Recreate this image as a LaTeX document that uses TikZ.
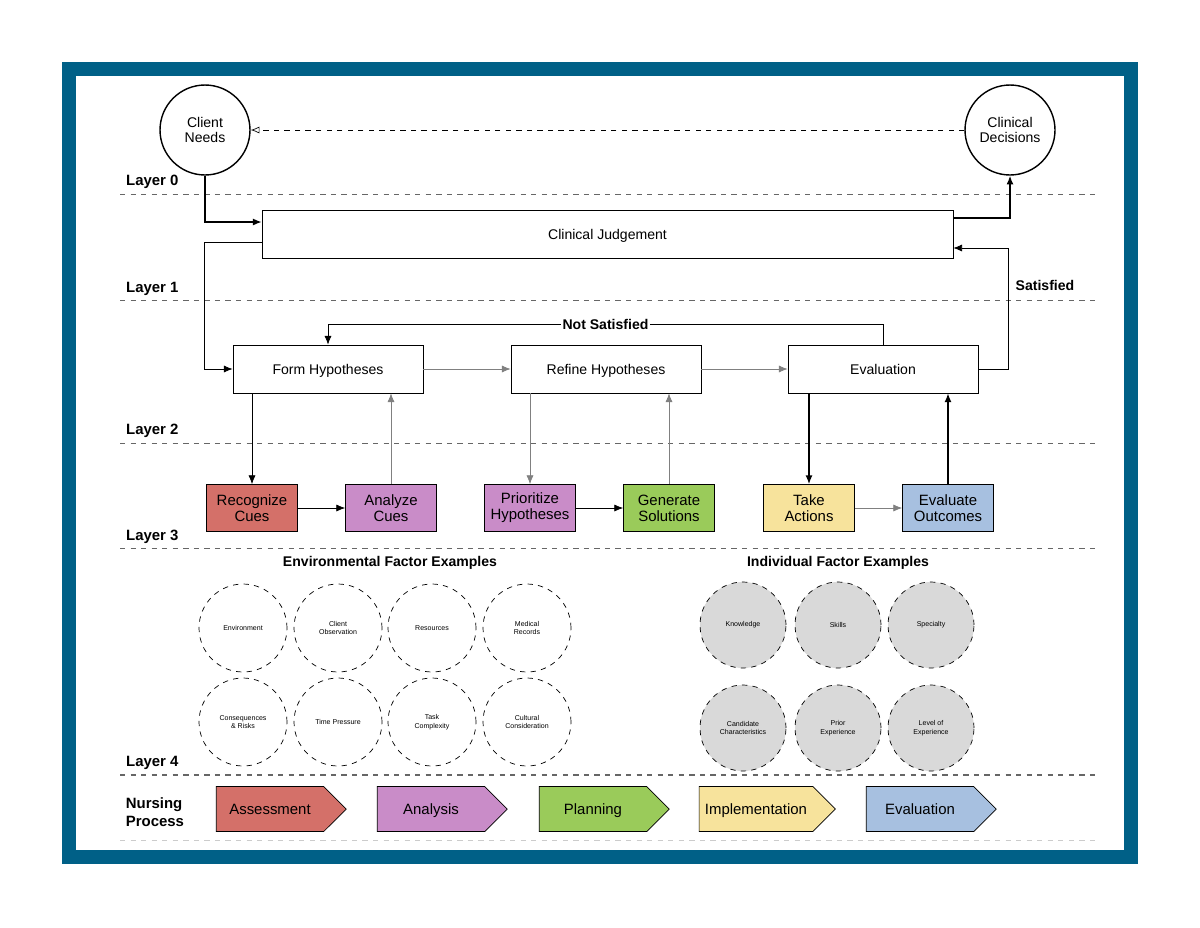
\documentclass[tikz,border=0pt]{standalone}
\usepackage{fontspec}
\setmainfont{Liberation Sans}
\usetikzlibrary{arrows.meta,shapes.symbols,positioning}
\definecolor{frame}{RGB}{0,96,135}
\definecolor{cred}{RGB}{212,112,105}
\definecolor{cpurple}{RGB}{201,140,200}
\definecolor{cgreen}{RGB}{154,203,90}
\definecolor{cyellow}{RGB}{247,227,156}
\definecolor{cblue}{RGB}{167,192,224}
\begin{document}
\begin{tikzpicture}[x=0.02cm, y=-0.02cm, >={Latex[length=5pt,width=4pt]}, font=\fontsize{8}{9}\selectfont]
    % Define styles for boxes, circles and layer lines
    \tikzstyle{outer} = [circle, draw, thick, minimum size=1.8cm, align=center, inner sep=0pt]
    \tikzstyle{box} = [draw, fill=white, minimum height=0.96cm, minimum width=3.8cm, text height=1.6ex, text depth=0.4ex]
    \tikzstyle{stage} = [draw, minimum height=0.94cm, minimum width=1.82cm, align=center, font=\fontsize{8.5}{9}\selectfont, inner sep=1pt]
    \tikzstyle{factor} = [circle, draw, dashed, minimum size=1.76cm, align=center, inner sep=0pt, font=\fontsize{4}{5}\selectfont]
    \tikzstyle{person} = [factor, fill=gray!30, minimum size=1.72cm]
    \tikzstyle{process} = [signal, signal to=east, draw, minimum height=0.9cm, minimum width=2.6cm, text height=1.6ex, text depth=0.4ex, font=\fontsize{8.5}{9}\selectfont]
    \tikzstyle{layer} = [anchor=west, font=\bfseries\fontsize{8.5}{9}\selectfont]
    \tikzstyle{sep} = [draw=gray!80!black, dashed]
    \tikzstyle{link} = [draw, ->]
    \tikzstyle{grey} = [draw=gray, ->]

    % Frame
    \fill[frame] (62,62) rectangle (1138,864);
    \fill[white] (76,76) rectangle (1124,850);
    \useasboundingbox (0,0) rectangle (1200,927);

    % Layer 0
    \node [outer] (needs) at (205,130) {Client\\Needs};
    \node [outer] (decisions) at (1010,130) {Clinical\\Decisions};
    \draw[dashed, -{Latex[open,length=5pt,width=4pt]}] (decisions) -- (needs);
    \node [layer] (l0) at (120,182) {Layer 0};
    \draw[sep] (120,194) -- (1100,194);

    % Layer 1
    \node [box, minimum width=13.82cm] (judge) at (607.5,234) {Clinical Judgement};
    \node [layer] (l1) at (120,289) {Layer 1};
    \draw[sep] (120,300) -- (1100,300);
    \node [font=\bfseries\fontsize{8}{9}\selectfont] (sat) at (1045,285) {Satisfied};

    % Layer 2
    \node [box] (form) at (328,369) {Form Hypotheses};
    \node [box] (refine) at (606,369) {Refine Hypotheses};
    \node [box] (eval) at (883,369) {Evaluation};
    \node [layer] (l2) at (120,431) {Layer 2};
    \draw[sep] (120,443) -- (1100,443);

    % Layer 3
    \node [stage, fill=cred] (recog) at (252,508) {Recognize\\Cues};
    \node [stage, fill=cpurple] (analyze) at (391,508) {Analyze\\Cues};
    \node [stage, fill=cpurple] (prior) at (530,508) {Prioritize\\Hypotheses};
    \node [stage, fill=cgreen] (gen) at (669,508) {Generate\\Solutions};
    \node [stage, fill=cyellow] (take) at (809,508) {Take\\Actions};
    \node [stage, fill=cblue] (outc) at (948,508) {Evaluate\\Outcomes};
    \node [layer] (l3) at (120,537) {Layer 3};
    \draw[sep] (120,548) -- (1100,548);

    % Layer 4
    \node [font=\bfseries\fontsize{8}{9}\selectfont] (envt) at (390,563) {Environmental Factor Examples};
    \node [font=\bfseries\fontsize{8}{9}\selectfont] (indt) at (838,563) {Individual Factor Examples};
    \node [factor] (e1) at (243,628) {Environment};
    \node [factor] (e2) at (338,628) {Client\\Observation};
    \node [factor] (e3) at (432,628) {Resources};
    \node [factor] (e4) at (527,628) {Medical\\Records};
    \node [factor] (e5) at (243,722) {Consequences\\\& Risks};
    \node [factor] (e6) at (338,722) {Time Pressure};
    \node [factor] (e7) at (432,722) {Task\\Complexity};
    \node [factor] (e8) at (527,722) {Cultural\\Consideration};
    \node [person] (i1) at (743,625) {Knowledge};
    \node [person] (i2) at (838,625) {Skills};
    \node [person] (i3) at (931,625) {Specialty};
    \node [person] (i4) at (743,728) {Candidate\\Characteristics};
    \node [person] (i5) at (838,728) {Prior\\Experience};
    \node [person] (i6) at (931,728) {Level of\\Experience};
    \node [layer] (l4) at (120,763) {Layer 4};
    \draw[sep, thick] (120,775) -- (1100,775);

    % Nursing process
    \node [font=\bfseries\fontsize{8.5}{10}\selectfont, align=left] (np) at (155,812) {Nursing\\Process};
    \node [process, fill=cred] (p1) at (270,809) {Assessment};
    \node [process, fill=cpurple] (p2) at (431,809) {Analysis};
    \node [process, fill=cgreen] (p3) at (593,809) {Planning};
    \node [process, fill=cyellow] (p4) at (756,809) {Implementation};
    \node [process, fill=cblue] (p5) at (920,809) {Evaluation};
    \draw[sep, gray!40] (120,840) -- (1100,840);

    % Draw edges
    \draw[link, thick] (needs.south) |- ([yshift=0.24cm]judge.west);
    \draw[link, thick] ([yshift=0.32cm]judge.east) -| (decisions.south);
    \draw[link] ([yshift=-0.16cm]judge.west) -- ++(-1.14cm,0) |- (form.west);
    \draw[link] (eval.east) -- ++(0.6cm,0) |- ([yshift=-0.28cm]judge.east);
    \draw[grey] (form) -- (refine);
    \draw[grey] (refine) -- (eval);
    \draw[link] (eval.north) -- ++(0,0.4cm) -| node[pos=0.25, fill=white, inner sep=1pt, font=\bfseries\fontsize{8}{9}\selectfont] {Not Satisfied} (form.north);

    % Vertical links
    \draw[link] (form.south -| recog) -- (recog.north);
    \draw[grey] (analyze.north) -- (form.south -| analyze);
    \draw[grey] (refine.south -| prior) -- (prior.north);
    \draw[grey] (gen.north) -- (refine.south -| gen);
    \draw[link, thick] (eval.south -| take) -- (take.north);
    \draw[link, thick] (outc.north) -- (eval.south -| outc);
    \draw[link] (recog) -- (analyze);
    \draw[link] (prior) -- (gen);
    \draw[grey] (take) -- (outc);
\end{tikzpicture}
\end{document}
